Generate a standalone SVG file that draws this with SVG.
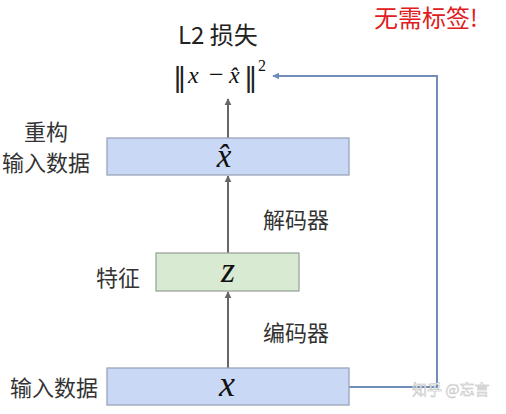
<svg xmlns="http://www.w3.org/2000/svg" width="506" height="414" viewBox="0 0 506 414">
<defs>
<marker id="ag" viewBox="0 0 10 10" refX="9" refY="5" markerWidth="7" markerHeight="8" orient="auto" markerUnits="userSpaceOnUse"><path d="M0,0 L10,5 L0,10 Z" fill="#666"/></marker>
<marker id="ab" viewBox="0 0 10 10" refX="9" refY="5" markerWidth="7" markerHeight="7" orient="auto" markerUnits="userSpaceOnUse"><path d="M0,0 L10,5 L0,10 Z" fill="#6f8db8"/></marker>
</defs>
<style>
.cn{font-family:"Noto Sans CJK SC","Noto Sans",sans-serif;font-size:22px;fill:#333}
.m{font-family:"Liberation Serif","DejaVu Serif",serif;font-style:italic;fill:#111}
.f{font-family:"Liberation Serif","DejaVu Serif",serif;fill:#111}
.bar{font-family:"DejaVu Sans",sans-serif;font-size:27px;fill:#222}
.box{fill:#c9d8f5;stroke:#9aa5b8;stroke-width:1.3}
.gbox{fill:#d9ead3;stroke:#9aa59a;stroke-width:1.3}
.ar{stroke:#666;stroke-width:2;fill:none;marker-end:url(#ag)}
</style>
<rect width="506" height="414" fill="#fff"/>
<text x="374" y="27" style="font-family:'Noto Sans CJK SC',sans-serif;font-size:24px;fill:#e02020">无需标签!</text>
<g id="loss">
<text x="178" y="44" style="font-family:'Noto Sans CJK SC','Noto Sans',sans-serif;font-size:24px;fill:#222">L2 损失</text>
<text class="bar" x="173" y="86">‖</text>
<text class="m" x="188" y="83" font-size="24">x</text>
<text class="f" x="209" y="83" font-size="26">−</text>
<text class="m" x="229" y="83" font-size="24">x̂</text>
<text class="bar" x="244" y="86">‖</text>
<text class="f" x="258" y="71" font-size="16">2</text>
</g>
<g id="connectors">
<line class="ar" x1="228" y1="138" x2="228" y2="99"/>
<line class="ar" x1="228" y1="253" x2="228" y2="176"/>
<line class="ar" x1="228" y1="368" x2="228" y2="292"/>
<polyline points="349,387 437,387 437,76 273,76" fill="none" stroke="#6f8db8" stroke-width="2" marker-end="url(#ab)"/>
</g>
<g id="xhat">
<rect class="box" x="107" y="138" width="242" height="37"/>
<text class="m" x="224" y="167" font-size="33" text-anchor="middle">x̂</text>
<text class="cn" x="46" y="140" text-anchor="middle" font-size="21">重构</text>
<text class="cn" x="46" y="171" text-anchor="middle" font-size="21">输入数据</text>
</g>
<g id="z">
<rect class="gbox" x="156" y="253" width="143" height="38"/>
<text class="m" x="228" y="282" font-size="36" text-anchor="middle">z</text>
<text class="cn" x="118" y="286" text-anchor="middle">特征</text>
</g>
<g id="x">
<rect class="box" x="107" y="368" width="242" height="37"/>
<text class="m" x="227" y="396" font-size="36" text-anchor="middle">x</text>
<text class="cn" x="54" y="396" text-anchor="middle">输入数据</text>
</g>
<text class="cn" x="296" y="228" text-anchor="middle">解码器</text>
<text class="cn" x="296" y="341" text-anchor="middle">编码器</text>
<text x="412" y="395" style="font-family:'Noto Sans CJK SC',sans-serif;font-size:15px;fill:#fff;stroke:#bbb;stroke-width:0.5">知乎 @忘言</text>
</svg>
